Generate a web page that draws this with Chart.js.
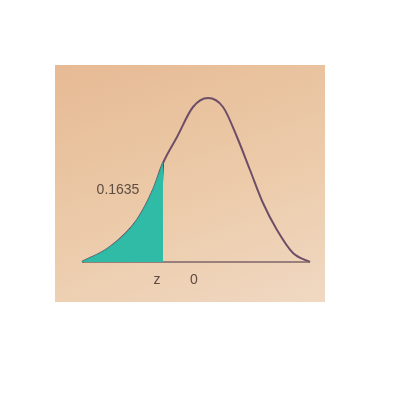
<!DOCTYPE html>
<html><head><meta charset="utf-8">
<script src="https://cdn.jsdelivr.net/npm/chart.js"></script>
<style>
html,body{margin:0;background:#fff;width:400px;height:400px;overflow:hidden}
#bg{position:absolute;left:55px;top:65px;width:270px;height:237px;background:linear-gradient(160deg,#e6ba94,#eccbaa 55%,#f0d8c2)}
#wrap{position:absolute;left:55px;top:65px;width:270px;height:237px}
</style></head><body>
<div id="bg"></div>
<div id="wrap"><canvas id="c"></canvas></div>
<script>
const curveX=[82,110,137,153,163,177,193,208,223,237,250,263,277,293,310];
const curveY=[0,15,42,72,99,125,155,164,155,125,92,59,32,9,0];
const tailX=[82,110,137,153,163];
const tailY=[0,15,42,72,99];
const areaLabel="0.1635";
const tickLabels=[{x:157,t:"z"},{x:194,t:"0"}];
const zLine=[{x:158,y:0},{x:163,y:99}];
const pts=(xs,ys)=>xs.map((x,i)=>({x,y:ys[i]}));
const labelPlugin={id:'lbl',afterDatasetsDraw(ch){const c=ch.ctx,xs=ch.scales.x,ys=ch.scales.y;
c.save();c.fillStyle='#5e4c42';c.font='14px "Liberation Sans",Arial';c.textAlign='center';c.textBaseline='middle';
c.fillText(areaLabel,xs.getPixelForValue(118),ys.getPixelForValue(72));
tickLabels.forEach(l=>c.fillText(l.t,xs.getPixelForValue(l.x),ys.getPixelForValue(-18)));
c.restore();}};
const smooth={cubicInterpolationMode:'monotone',pointRadius:0};
new Chart(document.getElementById('c'),{type:'line',
data:{datasets:[
{data:pts(tailX,tailY),borderColor:'#2ab3a0',backgroundColor:'#2fbba5',fill:'origin',borderWidth:1,...smooth},
{data:[{x:82,y:0},{x:310,y:0}],borderColor:'#7d6468',borderWidth:1.5,pointRadius:0,fill:false},
{data:pts(curveX,curveY),borderColor:'#6e4e66',borderWidth:2,fill:false,...smooth},
{data:zLine,borderColor:'#4a3038',borderWidth:2,pointRadius:0,fill:false}
]},
options:{responsive:true,maintainAspectRatio:false,animation:false,layout:{padding:0},
plugins:{legend:{display:false},tooltip:{enabled:false}},
scales:{x:{type:'linear',min:55,max:325,display:false},y:{min:-40,max:197,display:false}}},
plugins:[labelPlugin]});
</script></body></html>
